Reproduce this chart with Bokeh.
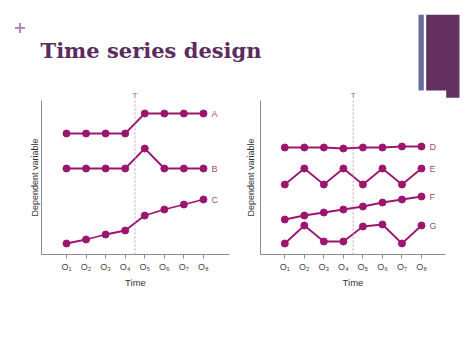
from bokeh.plotting import figure
from bokeh.layouts import column, row
from bokeh.models import Range1d, FixedTicker, Span
from bokeh.core.properties import value
from bokeh.embed import file_html
from bokeh.resources import INLINE

# ---- data ----
obs = [1, 2, 3, 4, 5, 6, 7, 8]
tick_labels = ["O\u2081", "O\u2082", "O\u2083", "O\u2084", "O\u2085", "O\u2086", "O\u2087", "O\u2088"]
treatment_at = 4.5

series_A = [12.1, 12.1, 12.1, 12.1, 14.1, 14.1, 14.1, 14.1]
series_B = [8.6, 8.6, 8.6, 8.6, 10.6, 8.6, 8.6, 8.6]
series_C = [1.1, 1.5, 2.0, 2.4, 3.9, 4.5, 5.0, 5.5]

series_D = [10.7, 10.7, 10.7, 10.6, 10.7, 10.7, 10.8, 10.8]
series_E = [7.0, 8.6, 7.0, 8.6, 7.0, 8.6, 7.0, 8.6]
series_F = [3.5, 3.9, 4.2, 4.5, 4.8, 5.2, 5.5, 5.8]
series_G = [1.1, 2.9, 1.3, 1.3, 2.8, 3.0, 1.1, 2.9]

left_series = [("A", series_A), ("B", series_B), ("C", series_C)]
right_series = [("D", series_D), ("E", series_E), ("F", series_F), ("G", series_G)]

LINE = "#9C1670"
LABEL_C = "#A04A86"
AXIS_C = "#8C8C8C"
FONT = "Liberation Sans"

W, H = 474, 355
HEAD_H = 100
PANEL_W = 237
# frame pixel bounds (page coords) of each panel
L_FRAME = (41, 229)
R_FRAME = (260, 445)
L_XR = (-0.277, 9.33)
R_XR = (-0.244, 9.229)


def page_range(frame, xr):
    """Same x scale as a panel, stretched over the whole page width."""
    scale = (frame[1] - frame[0]) / (xr[1] - xr[0])
    start = xr[0] - frame[0] / scale
    return Range1d(start, start + W / scale)


# ---- header ----
head = figure(width=W, height=HEAD_H, x_range=Range1d(0, W), y_range=Range1d(HEAD_H, 0),
              min_border=0, outline_line_color=None, toolbar_location=None,
              output_backend="svg", background_fill_color="white", border_fill_color="white")
head.axis.visible = False
head.grid.visible = False
head.extra_x_ranges = {"lx": page_range(L_FRAME, L_XR), "rx": page_range(R_FRAME, R_XR)}
head.quad(left=[418], right=[423.3], top=[14.3], bottom=[90], fill_color="#6A6A9E", line_color=None)
head.patch(x=[425.7, 459, 459, 445.7, 445.7, 425.7], y=[14.3, 14.3, 97.3, 97.3, 90, 90],
           fill_color="#633060", line_color=None)
head.text(x=[19.5], y=[26.5], text=["+"], text_font=value("DejaVu Sans"), text_font_style="bold",
          text_font_size="16px", text_color="#B07CC0", text_align="center", text_baseline="middle")
head.text(x=[40], y=[49.5], text=["Time series design"], text_font=value("DejaVu Serif"),
          text_font_style="bold", text_font_size="21px", text_color="#5B2C5E",
          text_align="left", text_baseline="middle")
for rn in ("lx", "rx"):
    head.text(x=[treatment_at], y=[94.8], text=["T"], x_range_name=rn, text_font=value(FONT),
              text_font_size="8px", text_color="#7A6A7E", text_align="center",
              text_baseline="middle")


def panel(series, frame, xr, page_left, label_offset):
    p = figure(width=PANEL_W, height=H - HEAD_H, x_range=Range1d(*xr), y_range=Range1d(0, 15.4),
               min_border_left=frame[0] - page_left,
               min_border_right=page_left + PANEL_W - frame[1],
               min_border_top=0, min_border_bottom=101,
               outline_line_color=None, toolbar_location=None, output_backend="svg",
               background_fill_color="white", border_fill_color="white")
    p.grid.visible = False
    # x axis
    p.xaxis.ticker = FixedTicker(ticks=obs)
    p.xaxis.major_label_overrides = {o: t for o, t in zip(obs, tick_labels)}
    p.xaxis.major_label_text_font = FONT
    p.xaxis.major_label_text_font_size = "9px"
    p.xaxis.major_label_text_color = "#444444"
    p.xaxis.major_label_standoff = 3
    p.xaxis.major_tick_in = 0
    p.xaxis.major_tick_out = 4
    p.xaxis.minor_tick_line_color = None
    p.xaxis.axis_line_color = AXIS_C
    p.xaxis.major_tick_line_color = AXIS_C
    p.xaxis.axis_label = "Time"
    p.xaxis.axis_label_text_font = FONT
    p.xaxis.axis_label_text_font_style = "normal"
    p.xaxis.axis_label_text_font_size = "9.5px"
    p.xaxis.axis_label_text_color = "#333333"
    p.xaxis.axis_label_standoff = 2
    # y axis
    p.yaxis.ticker = FixedTicker(ticks=[])
    p.yaxis.major_tick_out = 0
    p.yaxis.major_tick_in = 0
    p.yaxis.minor_tick_line_color = None
    p.yaxis.major_label_standoff = 0
    p.yaxis.major_label_text_font_size = "0px"
    p.yaxis.axis_line_color = AXIS_C
    p.yaxis.axis_label = "Dependent variable"
    p.yaxis.axis_label_text_font = FONT
    p.yaxis.axis_label_text_font_style = "normal"
    p.yaxis.axis_label_text_font_size = "9px"
    p.yaxis.axis_label_text_color = "#333333"
    p.yaxis.axis_label_standoff = label_offset
    # treatment line
    p.add_layout(Span(location=treatment_at, dimension="height", line_color="#C79CBE",
                      line_width=1, line_dash="2 2"))
    for name, vals in series:
        p.line(obs, vals, line_color=LINE, line_width=1.8)
        p.scatter(obs, vals, size=7, fill_color=LINE, line_color=LINE)
        p.text(x=[obs[-1]], y=[vals[-1]], text=[name], x_offset=8, text_font=value(FONT),
               text_font_size="9px", text_color=LABEL_C, text_baseline="middle", text_align="left")
    return p


left = panel(left_series, L_FRAME, L_XR, 0, 2)
right = panel(right_series, R_FRAME, R_XR, PANEL_W, 5)

layout = column(head, row(left, right, spacing=0), spacing=0)
open("out.html", "w").write(file_html(layout, INLINE))
